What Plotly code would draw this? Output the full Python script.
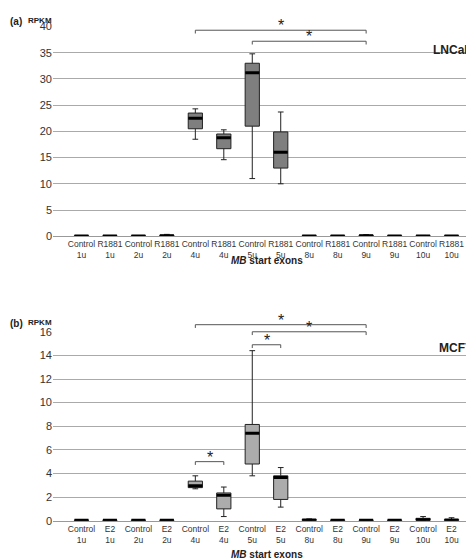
import plotly.graph_objects as go
from plotly.subplots import make_subplots

exons = ["1u","1u","2u","2u","4u","4u","5u","5u","8u","8u","9u","9u","10u","10u"]
top_groups = ["Control","R1881"]*7
bot_groups = ["Control","E2"]*7
top_cats = [f"{g}<br>{e}" for g, e in zip(top_groups, exons)]
bot_cats = [f"{g}<br>{e}" for g, e in zip(bot_groups, exons)]

# LNCaP stats: min, q1, median, q3, max
top_min = [0,0,0,0,18.5,14.6,11,10,0,0,0,0,0,0]
top_q1  = [0,0,0,0,20.5,16.7,21,13,0,0,0,0,0,0]
top_med = [0.05,0.05,0.05,0.1,22.5,18.8,31.2,16,0.05,0.05,0.1,0.05,0.05,0.05]
top_q3  = [0.1,0.1,0.1,0.2,23.5,19.5,33,19.9,0.1,0.1,0.2,0.1,0.1,0.1]
top_max = [0.1,0.1,0.1,0.35,24.3,20.3,34.8,23.7,0.1,0.1,0.3,0.1,0.15,0.1]

# MCF7 stats
bot_min = [0,0,0,0,2.7,0.35,3.8,1.15,0,0,0,0,0,0]
bot_q1  = [0,0,0,0,2.8,1.0,4.8,1.8,0.02,0,0,0,0.02,0]
bot_med = [0.03,0.03,0.03,0.03,2.95,2.15,7.4,3.65,0.06,0.03,0.03,0.03,0.08,0.05]
bot_q3  = [0.05,0.05,0.05,0.05,3.35,2.35,8.15,3.8,0.1,0.05,0.05,0.05,0.2,0.1]
bot_max = [0.05,0.05,0.05,0.05,3.8,2.85,14.4,4.5,0.15,0.05,0.05,0.05,0.35,0.25]

fig = make_subplots(rows=2, cols=1)
font = dict(family="Liberation Sans, Arial", size=10, color="#333")

def add(row, cats, mn, q1, md, q3, mx, color):
    fig.add_trace(go.Box(x=cats, q1=q1, median=md, q3=q3, lowerfence=mn, upperfence=mx,
                         fillcolor=color, line=dict(color="#222", width=1), whiskerwidth=0.4,
                         width=0.5, showlegend=False, hoverinfo="skip"), row=row, col=1)
    fig.add_trace(go.Scatter(x=cats, y=md, mode="markers", showlegend=False,
                             marker=dict(symbol="line-ew", size=10, line=dict(color="black", width=3)),
                             hoverinfo="skip"), row=row, col=1)

add(1, top_cats, top_min, top_q1, top_med, top_q3, top_max, "#7f7f7f")
add(2, bot_cats, bot_min, bot_q1, bot_med, bot_q3, bot_max, "#acacac")

ax = dict(showgrid=False, showline=True, linecolor="#999", ticks="", tickangle=0,
          tickfont=dict(size=8.5, color="#333"), type="category")
ay = dict(showgrid=True, gridcolor="#aaa", gridwidth=1, zeroline=False, tickfont=dict(size=11, color="#333"), ticks="")
fig.update_xaxes(**ax)
fig.update_yaxes(**ay)
fig.update_layout(
    width=474, height=558, margin=dict(l=45, r=2, t=0, b=0),
    plot_bgcolor="white", paper_bgcolor="white", font=font,
    xaxis=dict(domain=[0, 1]), xaxis2=dict(domain=[0, 1]),
    yaxis=dict(domain=[0.593, 0.977], range=[0, 40], dtick=5),
    yaxis2=dict(domain=[0.072, 0.418], range=[0, 16], dtick=2),
)

def to_paper(v, lo, hi, d0, d1):
    return d0 + (v - lo) / (hi - lo) * (d1 - d0)

def bracket(xa, ya_dom, rng, i0, i1, yv):
    yp = to_paper(yv, rng[0], rng[1], ya_dom[0], ya_dom[1])
    tk = 0.006
    for (a, b, c, d) in [(i0, yp, i1, yp), (i0, yp, i0, yp - tk), (i1, yp, i1, yp - tk)]:
        fig.add_shape(type="line", xref=xa, yref="paper", x0=a, y0=b, x1=c, y1=d,
                      line=dict(color="#555", width=1))
    fig.add_annotation(xref=xa, yref="paper", x=(i0 + i1) / 2, y=yp, text="*", showarrow=False,
                       yanchor="bottom", font=dict(size=16, color="#222"), yshift=-6)

bracket("x", (0.593, 0.977), (0, 40), 4, 10, 39.3)
bracket("x", (0.593, 0.977), (0, 40), 6, 10, 37.2)
bracket("x2", (0.072, 0.418), (0, 16), 4, 10, 16.6)
bracket("x2", (0.072, 0.418), (0, 16), 6, 10, 16.0)
bracket("x2", (0.072, 0.418), (0, 16), 6, 7, 14.9)
bracket("x2", (0.072, 0.418), (0, 16), 4, 5, 5.0)

anns = [
    dict(x=0.0, y=1.0, text="<b>(a)</b>", xanchor="left", yanchor="top", size=10, xshift=-45),
    dict(x=0.0, y=1.0, text="<b>RPKM</b>", xanchor="left", yanchor="top", size=8, xshift=-27),
    dict(x=0.985, y=0.95, text="<b>LNCaP</b>", xanchor="right", yanchor="top", size=12),
    dict(x=0.5, y=0.548, text="<b><i>MB</i> start exons</b>", xanchor="center", yanchor="middle", size=10),
    dict(x=0.0, y=0.447, text="<b>(b)</b>", xanchor="left", yanchor="top", size=10, xshift=-45),
    dict(x=0.0, y=0.447, text="<b>RPKM</b>", xanchor="left", yanchor="top", size=8, xshift=-27),
    dict(x=0.985, y=0.405, text="<b>MCF7</b>", xanchor="right", yanchor="top", size=12),
    dict(x=0.5, y=0.01, text="<b><i>MB</i> start exons</b>", xanchor="center", yanchor="middle", size=10),
]
for a in anns:
    fig.add_annotation(xref="paper", yref="paper", x=a["x"], y=a["y"], text=a["text"], showarrow=False,
                       xanchor=a["xanchor"], yanchor=a["yanchor"], xshift=a.get("xshift", 0),
                       font=dict(size=a["size"], color="#222"))

fig.write_html("out.html")
